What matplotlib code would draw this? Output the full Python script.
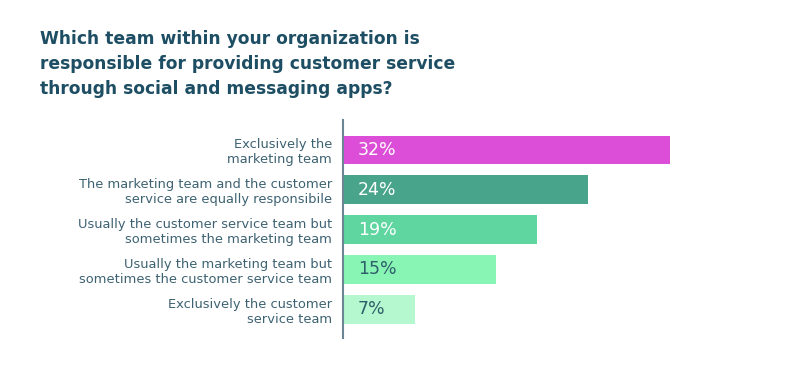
import numpy as np
import matplotlib.pyplot as plt

# survey answers, top to bottom
categories = [
    "Exclusively the\nmarketing team",
    "The marketing team and the customer\nservice are equally responsibile",
    "Usually the customer service team but\nsometimes the marketing team",
    "Usually the marketing team but\nsometimes the customer service team",
    "Exclusively the customer\nservice team",
]
values = [32, 24, 19, 15, 7]
value_labels = ["32%", "24%", "19%", "15%", "7%"]

bar_colors = ["#dd4ed8", "#48a48a", "#5fd59f", "#88f5b5", "#b5f7cf"]
label_colors = ["white", "white", "white", "#2e5f6a", "#2e5f6a"]

title = ("Which team within your organization is\n"
         "responsible for providing customer service\n"
         "through social and messaging apps?")

W, H = 789, 370
fig = plt.figure(figsize=(W / 100, H / 100), dpi=100)

# axes placed in pixel units
left, right, top, bottom = 343, 343 + 409, 120, 338
ax = fig.add_axes([left / W, 1 - bottom / H, (right - left) / W, (bottom - top) / H])

y = np.arange(len(values))
ax.barh(y, values, height=0.72, color=bar_colors, edgecolor="none")
ax.set_xlim(0, 40)
ax.set_ylim(4.72, -0.75)

for i, (v, lab) in enumerate(zip(values, value_labels)):
    ax.text(1.45, i, lab, va="center", ha="left", fontsize=12.5,
            color=label_colors[i], fontweight="medium")

ax.set_yticks(y)
ax.set_yticklabels(categories, fontsize=9.4, color="#3d6272", linespacing=1.2)
ax.tick_params(axis="y", length=0, pad=8)
ax.set_xticks([])
for s in ["top", "right", "bottom"]:
    ax.spines[s].set_visible(False)
ax.spines["left"].set_color("#6b8593")
ax.spines["left"].set_linewidth(1.5)

fig.text(40 / W, 1 - 30 / H, title, ha="left", va="top", fontsize=12.3,
         fontweight="bold", color="#1d4e63", linespacing=1.5)

fig.savefig("out.png", dpi=100)
